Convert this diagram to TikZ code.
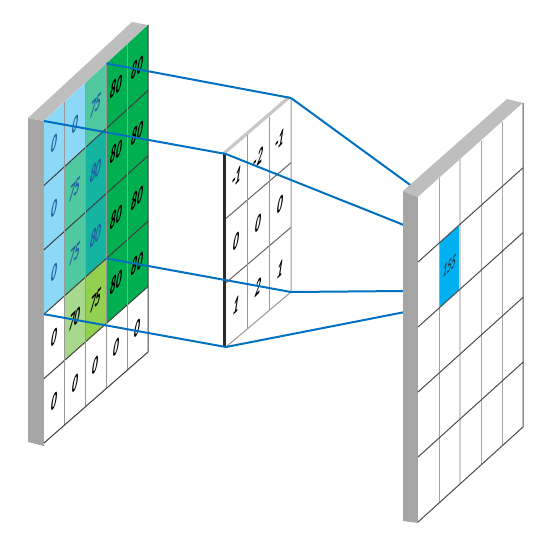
\documentclass[tikz,border=0pt]{standalone}
\usepackage{fontspec}
\setmainfont{Carlito}
\usetikzlibrary{calc}
\definecolor{lblue}{HTML}{8BD8F7}
\definecolor{tgreen}{HTML}{50C8A0}
\definecolor{tealc}{HTML}{14B4A0}
\definecolor{dgreen}{HTML}{00B050}
\definecolor{lgreen}{HTML}{A8D88C}
\definecolor{ygreen}{HTML}{92D050}
\definecolor{cyanc}{HTML}{00B0F0}
\definecolor{linkblue}{HTML}{0070C0}
\definecolor{sidegray}{HTML}{A5A5A5}
\definecolor{topgray}{HTML}{BEBEBE}
\definecolor{kside}{HTML}{2B2B2B}
\definecolor{bluetext}{HTML}{1F62A0}
\tikzset{
  link/.style={draw=linkblue, line width=1pt},
  rowline/.style={draw=black!75, line width=0.5pt},
  colline/.style={draw=black!40, line width=0.5pt},
  celltext/.style={transform shape, inner sep=0pt, font=\fontsize{13}{14}\selectfont\bfseries,
    yslant=1, xslant=0.18, xscale=0.42, yscale=0.85},
  smalltext/.style={celltext, font=\fontsize{10}{11}\selectfont},
}
\begin{document}
\begin{tikzpicture}[x=0.5pt,y=-0.5pt]
\useasboundingbox (0,0) rectangle (543,544);
% panel corners
\coordinate (LTL) at (44,121);  \coordinate (LTR) at (148,25);
\coordinate (LBL) at (44,443);  \coordinate (LBR) at (148,352);
\coordinate (KTL) at (226,154); \coordinate (KTR) at (291,98);
\coordinate (KBL) at (226,347); \coordinate (KBR) at (291,292);
\coordinate (RTL) at (418,197); \coordinate (RTR) at (523,103);
\coordinate (RBL) at (418,522); \coordinate (RBR) at (523,427);
% grid points
\foreach \P/\n in {L/5,K/3,R/5}{
  \foreach \i in {0,...,\n}{
    \foreach \j in {0,...,\n}{
      \coordinate (\P-\i-\j) at ($($(\P TL)!\i/\n!(\P TR)$)!\j/\n!($(\P BL)!\i/\n!(\P BR)$)$);
    }
  }
}
% ---------- left panel ----------
\fill[sidegray] (28,118) -- (LTL) -- (44,446) -- (28,442) -- cycle;
\fill[topgray] (28,118) -- (LTL) -- (LTR) -- (132,22) -- cycle;
\fill[white] (LTL) -- (LTR) -- (LBR) -- (LBL) -- cycle;
\def\Lcells{0/0/lblue/0/bluetext, 1/0/lblue/0/bluetext, 2/0/tgreen/75/bluetext, 3/0/dgreen/80/black, 4/0/dgreen/80/black,
0/1/lblue/0/bluetext, 1/1/tgreen/75/bluetext, 2/1/tealc/80/bluetext, 3/1/dgreen/80/black, 4/1/dgreen/80/black,
0/2/lblue/0/bluetext, 1/2/tgreen/75/bluetext, 2/2/tealc/80/bluetext, 3/2/dgreen/80/black, 4/2/dgreen/80/black,
0/3/white/0/black, 1/3/lgreen/70/black, 2/3/ygreen/75/black, 3/3/dgreen/80/black, 4/3/dgreen/80/black,
0/4/white/0/black, 1/4/white/0/black, 2/4/white/0/black, 3/4/white/0/black, 4/4/white/0/black}
\foreach \cx/\ry/\fc/\tx/\tcol in \Lcells{
  \pgfmathtruncatemacro\cc{\cx+1}
  \pgfmathtruncatemacro\rr{\ry+1}
  \fill[\fc] (L-\cx-\ry) -- (L-\cc-\ry) -- (L-\cc-\rr) -- (L-\cx-\rr) -- cycle;
}
\foreach \j in {1,...,4} \draw[rowline] (L-0-\j) -- (L-5-\j);
\foreach \i in {1,...,4} \draw[colline] (L-\i-0) -- (L-\i-5);
\draw[rowline] (LTR) -- (LBR) -- (LBL);
\foreach \cx/\ry/\fc/\tx/\tcol in \Lcells{
  \pgfmathtruncatemacro\cc{\cx+1}
  \pgfmathtruncatemacro\rr{\ry+1}
  \coordinate (LC-\cx-\ry) at ($(L-\cx-\ry)!0.5!(L-\cc-\rr)$);
  \begin{scope}[shift={(LC-\cx-\ry)}]
    \node[celltext, text=\tcol] (lt-\cx-\ry) at (0,0) {\tx};
  \end{scope}
}
% ---------- kernel ----------
\fill[kside] (223,152) -- (KTL) -- (227,348) -- (223,346) -- cycle;
\fill[black!22] (223,152) -- (KTL) -- (KTR) -- (288,96) -- cycle;
\fill[white] (KTL) -- (KTR) -- (KBR) -- (KBL) -- cycle;
\foreach \j in {1,2} \draw[draw=black!60, line width=0.5pt] (K-0-\j) -- (K-3-\j);
\foreach \i in {1,2} \draw[draw=black!40, line width=0.5pt] (K-\i-0) -- (K-\i-3);
\draw[draw=black!40, line width=0.5pt] (KTR) -- (KBR) -- (KBL);
\foreach \cx/\ry/\tx in {0/0/-1, 1/0/-2, 2/0/-1, 0/1/0, 1/1/0, 2/1/0, 0/2/1, 1/2/2, 2/2/1}{
  \pgfmathtruncatemacro\cc{\cx+1}
  \pgfmathtruncatemacro\rr{\ry+1}
  \coordinate (KC-\cx-\ry) at ($(K-\cx-\ry)!0.5!(K-\cc-\rr)$);
  \begin{scope}[shift={(KC-\cx-\ry)}]
    \node[celltext, text=black] (kt-\cx-\ry) at (0,0) {\tx};
  \end{scope}
}
% ---------- connectors ----------
\coordinate (RA) at (413,187);
\coordinate (RB) at (405,225.5);
\coordinate (RC) at (405,291);
\coordinate (RD) at (405,312);
\draw[link] (L-3-0) -- (K-3-0);
\draw[link] (L-0-0) -- (K-0-0);
\draw[link] (L-3-3) -- (K-3-3);
\draw[link] (L-0-3) -- (K-0-3);
\draw[link] (K-3-0) -- (RA);
\draw[link] (K-0-0) -- (RB);
\draw[link] (K-3-3) -- (RC);
\draw[link] (K-0-3) -- (RD);
% ---------- right panel ----------
\fill[sidegray] (403,191) -- (RTL) -- (418,523) -- (403,521) -- cycle;
\fill[topgray] (403,191) -- (RTL) -- (RTR) -- (507,99) -- cycle;
\fill[white] (RTL) -- (RTR) -- (RBR) -- (RBL) -- cycle;
\fill[cyanc] (R-1-1) -- (R-2-1) -- (R-2-2) -- (R-1-2) -- cycle;
\foreach \i in {1,3,4} \draw[draw=black!35, line width=0.5pt] (R-\i-0) -- (R-\i-5);
\draw[draw=black!18, line width=0.6pt] (R-2-0) -- (R-2-5);
\foreach \j in {1,...,4} \draw[draw=black!70, line width=0.5pt] (R-0-\j) -- (R-5-\j);
\draw[draw=black!70, line width=0.5pt] (RTR) -- (RBR) -- (RBL);
\coordinate (RC-1-1) at ($(R-1-1)!0.5!(R-2-2)$);
\begin{scope}[shift={(RC-1-1)}]
  \node[smalltext, text=black!85] (rt-1-1) at (0,0) {155};
\end{scope}
\end{tikzpicture}
\end{document}
